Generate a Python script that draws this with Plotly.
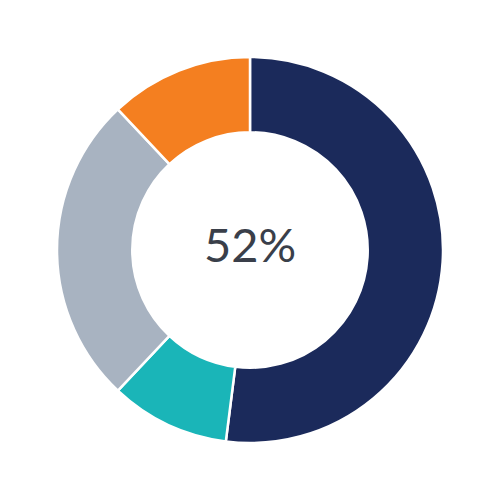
import plotly.graph_objects as go

labels = ["A", "B", "C", "D"]
values = [52, 10, 26, 12]
colors = ["#1b2a5b", "#1ab5b8", "#a8b3c1", "#f47f20"]
center_text = "52%"

fig = go.Figure(data=[go.Pie(
    labels=labels, values=values, hole=0.61, sort=False,
    direction="clockwise", rotation=0,
    marker=dict(colors=colors, line=dict(color="white", width=2.5)),
    textinfo="none", hoverinfo="label+percent",
)])

# centre label
fig.add_annotation(text=center_text, x=0.5, y=0.5, xref="paper", yref="paper",
                   showarrow=False, yshift=6,
                   font=dict(family="Lato", size=47, color="#3a3f4a"))

# page body adds 8px, so offset margins to keep the ring centred
fig.update_layout(width=500, height=500, showlegend=False,
                  margin=dict(l=49, r=65, t=49, b=65),
                  paper_bgcolor="white", plot_bgcolor="white")

fig.write_html("out.html")
